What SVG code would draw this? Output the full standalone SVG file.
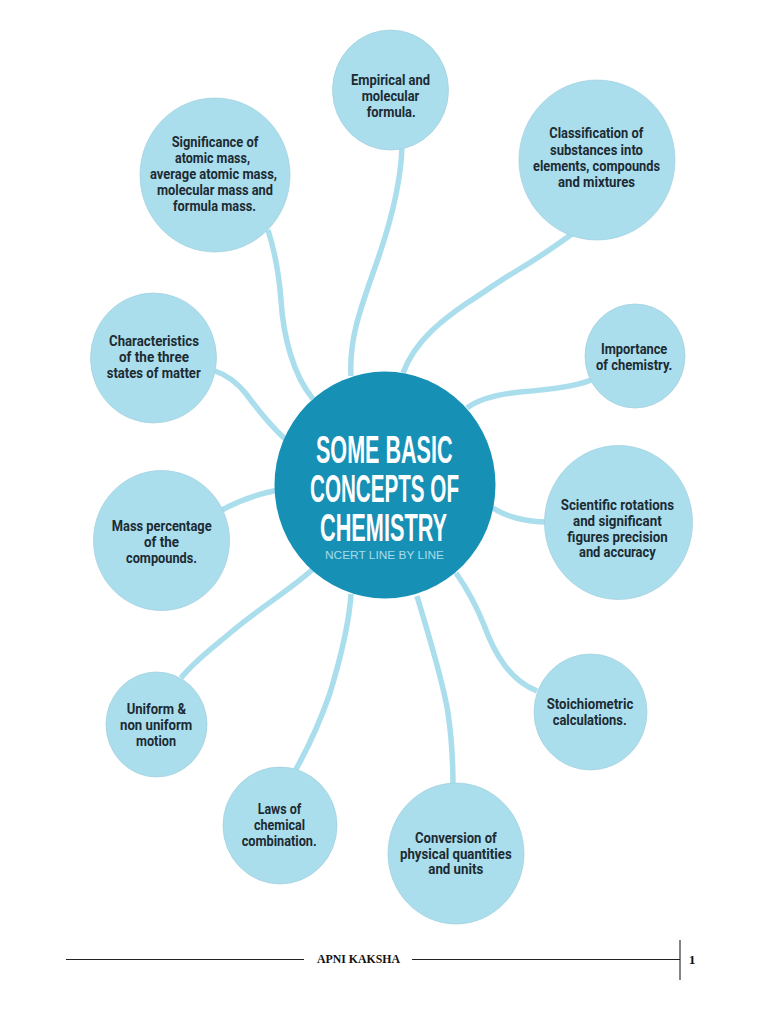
<svg xmlns="http://www.w3.org/2000/svg" width="768" height="1024" viewBox="0 0 768 1024">
<style>
.n{fill:#abdeed;stroke:#9fcfdd;stroke-width:.7}
.c{fill:none;stroke:#abdeed;stroke-width:5.500;stroke-linecap:butt}
.t{font-family:"Roboto","Liberation Sans",sans-serif;font-weight:700;font-size:14px;fill:#1c2b33}
.h{font-family:"Liberation Sans",sans-serif;font-weight:700;font-size:38px;fill:#fff}
.s{font-family:"Liberation Sans",sans-serif;font-size:11px;fill:#a9dcec}
.f{font-family:"Liberation Serif",serif;font-weight:700;font-size:13.500px;fill:#111}
.l{stroke:#222;stroke-width:1.100;fill:none}
</style>
<rect width="768" height="1024" fill="#fff"/>
<g id="connectors">
<path class="c" d="M402 146C401 190 385 240 373 273C360 310 349 340 351 376"/>
<path class="c" d="M268 230C276 255 279 275 281 300C283 335 293 375 313 399"/>
<path class="c" d="M572 234C550 250 530 263 513 273C495 284 480 295 467 303C445 318 415 340 403 373"/>
<path class="c" d="M591 380C575 387 545 390 520 392C500 394 480 398 467 408"/>
<path class="c" d="M215 371C230 376 240 386 247 395C258 410 270 425 285 439"/>
<path class="c" d="M493 508C505 516 525 522 547 522"/>
<path class="c" d="M222 510C240 500 258 494 278 490"/>
<path class="c" d="M456 573C468 590 478 610 484 625C495 655 510 680 537 691"/>
<path class="c" d="M313 569C290 590 262 606 230 633C215 646 195 660 181 678"/>
<path class="c" d="M351 594C349 625 340 660 330 693C320 722 308 748 295 771"/>
<path class="c" d="M417 596C427 630 443 680 448 713C452 740 453 760 453 786"/>
</g>
<g id="center"><ellipse cx="385" cy="485" rx="110.500" ry="113.500" fill="#1790b5"/>
<text class="h" x="316" y="463" textLength="136.500" lengthAdjust="spacingAndGlyphs">SOME BASIC</text>
<text class="h" x="310" y="502" textLength="149" lengthAdjust="spacingAndGlyphs">CONCEPTS OF</text>
<text class="h" x="320" y="541" textLength="127" lengthAdjust="spacingAndGlyphs">CHEMISTRY</text>
<text class="s" x="325" y="559" textLength="119" lengthAdjust="spacingAndGlyphs">NCERT LINE BY LINE</text></g>
<g id="n1"><ellipse class="n" cx="390.500" cy="90" rx="58" ry="60"/>
<text class="t" x="351" y="85" textLength="79" lengthAdjust="spacingAndGlyphs">Empirical and</text>
<text class="t" x="361.700" y="101" textLength="57.600" lengthAdjust="spacingAndGlyphs">molecular</text>
<text class="t" x="366.700" y="117" textLength="49" lengthAdjust="spacingAndGlyphs">formula.</text></g>
<g id="n2"><ellipse class="n" cx="215" cy="175" rx="75" ry="77"/>
<text class="t" x="171.700" y="147" textLength="86.600" lengthAdjust="spacingAndGlyphs">Significance of</text>
<text class="t" x="175" y="163" textLength="75" lengthAdjust="spacingAndGlyphs">atomic mass,</text>
<text class="t" x="150" y="179" textLength="127" lengthAdjust="spacingAndGlyphs">average atomic mass,</text>
<text class="t" x="157" y="195" textLength="116" lengthAdjust="spacingAndGlyphs">molecular mass and</text>
<text class="t" x="173" y="211" textLength="83" lengthAdjust="spacingAndGlyphs">formula mass.</text></g>
<g id="n3"><ellipse class="n" cx="597" cy="160" rx="78" ry="80"/>
<text class="t" x="549.300" y="138" textLength="94" lengthAdjust="spacingAndGlyphs">Classification of</text>
<text class="t" x="550" y="154.500" textLength="93" lengthAdjust="spacingAndGlyphs">substances into</text>
<text class="t" x="533" y="170.500" textLength="127" lengthAdjust="spacingAndGlyphs">elements, compounds</text>
<text class="t" x="558" y="187" textLength="77" lengthAdjust="spacingAndGlyphs">and mixtures</text></g>
<g id="n4"><ellipse class="n" cx="635" cy="356" rx="50" ry="52"/>
<text class="t" x="601" y="353.500" textLength="66.300" lengthAdjust="spacingAndGlyphs">Importance</text>
<text class="t" x="596" y="369.500" textLength="76.300" lengthAdjust="spacingAndGlyphs">of chemistry.</text></g>
<g id="n5"><ellipse class="n" cx="153.500" cy="358" rx="63" ry="65"/>
<text class="t" x="109" y="346" textLength="90" lengthAdjust="spacingAndGlyphs">Characteristics</text>
<text class="t" x="119" y="362" textLength="70" lengthAdjust="spacingAndGlyphs">of the three</text>
<text class="t" x="106.700" y="378" textLength="94" lengthAdjust="spacingAndGlyphs">states of matter</text></g>
<g id="n6"><ellipse class="n" cx="618.500" cy="522.500" rx="74" ry="77"/>
<text class="t" x="560.700" y="510" textLength="113.300" lengthAdjust="spacingAndGlyphs">Scientific rotations</text>
<text class="t" x="573" y="526" textLength="88.700" lengthAdjust="spacingAndGlyphs">and significant</text>
<text class="t" x="567.300" y="541.500" textLength="100.400" lengthAdjust="spacingAndGlyphs">figures precision</text>
<text class="t" x="579" y="557" textLength="76.700" lengthAdjust="spacingAndGlyphs">and accuracy</text></g>
<g id="n7"><ellipse class="n" cx="161.500" cy="540.500" rx="68" ry="70"/>
<text class="t" x="111.700" y="531" textLength="100" lengthAdjust="spacingAndGlyphs">Mass percentage</text>
<text class="t" x="144" y="547" textLength="35" lengthAdjust="spacingAndGlyphs">of the</text>
<text class="t" x="126" y="563" textLength="71" lengthAdjust="spacingAndGlyphs">compounds.</text></g>
<g id="n8"><ellipse class="n" cx="590.500" cy="712" rx="56.500" ry="58"/>
<text class="t" x="546.700" y="709" textLength="86.600" lengthAdjust="spacingAndGlyphs">Stoichiometric</text>
<text class="t" x="552.700" y="725" textLength="74" lengthAdjust="spacingAndGlyphs">calculations.</text></g>
<g id="n9"><ellipse class="n" cx="156.500" cy="724.500" rx="50.500" ry="52.500"/>
<text class="t" x="126.700" y="714" textLength="59.300" lengthAdjust="spacingAndGlyphs">Uniform &amp;</text>
<text class="t" x="120" y="730" textLength="72.300" lengthAdjust="spacingAndGlyphs">non uniform</text>
<text class="t" x="136" y="745.500" textLength="40" lengthAdjust="spacingAndGlyphs">motion</text></g>
<g id="n10"><ellipse class="n" cx="280" cy="825.500" rx="57" ry="58.500"/>
<text class="t" x="257.700" y="814" textLength="43.600" lengthAdjust="spacingAndGlyphs">Laws of</text>
<text class="t" x="254" y="830" textLength="51" lengthAdjust="spacingAndGlyphs">chemical</text>
<text class="t" x="241.700" y="845.500" textLength="75" lengthAdjust="spacingAndGlyphs">combination.</text></g>
<g id="n11"><ellipse class="n" cx="456" cy="853.500" rx="68" ry="70.500"/>
<text class="t" x="415" y="842.500" textLength="81.700" lengthAdjust="spacingAndGlyphs">Conversion of</text>
<text class="t" x="400" y="858.500" textLength="111.700" lengthAdjust="spacingAndGlyphs">physical quantities</text>
<text class="t" x="428.300" y="874" textLength="55" lengthAdjust="spacingAndGlyphs">and units</text></g>
<g id="footer">
<path class="l" d="M66 959.500H304M412 959.500H680M680 940V980"/>
<text class="f" x="317" y="963" textLength="83" lengthAdjust="spacingAndGlyphs">APNI KAKSHA</text>
<text class="f" x="692" y="964" text-anchor="middle">1</text>
</g>
</svg>
